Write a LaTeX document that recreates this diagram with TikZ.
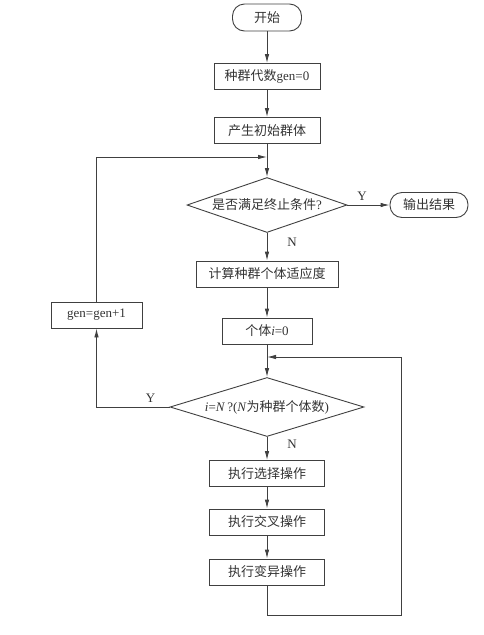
\documentclass[tikz,border=0pt]{standalone}
\usepackage{fontspec}
\setmainfont{Liberation Serif}
\newfontfamily\cjk{Noto Sans CJK SC}
\usetikzlibrary{shapes.geometric,arrows.meta}

\begin{document}
\begin{tikzpicture}[x=1pt,y=-1pt]
        \tikzstyle{every node}=[draw=black!75,line width=0.9pt,text=black!80,font=\fontsize{13}{15}\selectfont,inner sep=0pt];
        \tikzstyle{proc}=[rectangle,minimum height=26pt];
        \tikzstyle{term}=[rectangle,rounded corners=12pt,minimum height=26pt];
        \tikzstyle{decide}=[diamond,aspect=3];
        \tikzstyle{yn}=[draw=none];
        \tikzstyle{line}=[draw=black!75,line width=0.9pt,-{Latex[length=9pt,width=4.5pt]}];
        \useasboundingbox (0,0) rectangle (484,635);
        %main column
        \node[term,minimum width=69pt,minimum height=27pt] (start) at (267,17.5) {\cjk 开始};
        \node[proc,minimum width=106pt] (gen) at (267,76.5) {{\cjk 种群代数}gen=0};
        \node[proc,minimum width=106pt] (init) at (267,130.5) {\cjk 产生初始群体};
        \node[decide,minimum width=160pt,minimum height=55pt] (check) at (267,205) {{\cjk 是否满足终止条件}?};
        \node[term,minimum width=78pt,minimum height=25pt] (output) at (429,205) {\cjk 输出结果};
        \node[proc,minimum width=142pt] (fitness) at (267,274) {\cjk 计算种群个体适应度};
        \node[proc,minimum width=90pt] (ind) at (267,331) {{\cjk 个体}\textit{i}=0};
        \node[decide,minimum width=194pt,minimum height=59pt] (full) at (267,407) {\textit{i}=\textit{N}\,?(\textit{N}{\cjk 为种群个体数})};
        \node[proc,minimum width=91pt] (incr) at (96.5,315) {gen=gen+1};
        \node[proc,minimum width=115pt] (select) at (267,473.5) {\cjk 执行选择操作};
        \node[proc,minimum width=115pt] (cross) at (267,522) {\cjk 执行交叉操作};
        \node[proc,minimum width=115pt] (mutate) at (267,572) {\cjk 执行变异操作};
        %loop points
        \coordinate (join1) at (267,157);
        \coordinate (join2) at (267,357);
        \coordinate (loop) at (401,615);
        \draw[line] (start)--(gen);
        \draw[line] (gen)--(init);
        \draw[line] (init)--(check);
        \draw[line] (check)-- node[yn,above=4pt,pos=0.35] {Y} (output);
        \draw[line] (check)-- node[yn,right=20pt,pos=0.35] {N} (fitness);
        \draw[line] (fitness)--(ind);
        \draw[line] (ind)--(full);
        \draw[line] (full)-| node[yn,above=4pt,pos=0.13] {Y} (incr);
        \draw[line] (incr)|-(join1);
        \draw[line] (full)-- node[yn,right=20pt,pos=0.3] {N} (select);
        \draw[line] (select)--(cross);
        \draw[line] (cross)--(mutate);
        \draw[line] (mutate)|-(loop)|-(join2);
    \end{tikzpicture}
\end{document}
